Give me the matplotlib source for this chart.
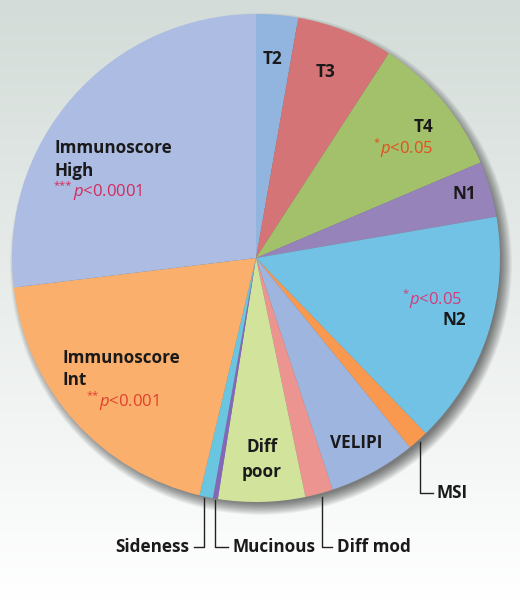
import numpy as np
import matplotlib as mpl
import matplotlib.pyplot as plt
from matplotlib.patches import Circle

mpl.rcParams['font.family'] = ['Open Sans', 'DejaVu Sans']
mpl.rcParams['mathtext.fontset'] = 'custom'
mpl.rcParams['mathtext.rm'] = 'Open Sans'
mpl.rcParams['mathtext.it'] = 'Open Sans:italic'

# slices, clockwise from 12 o'clock
labels = ['T2', 'T3', 'T4', 'N1', 'N2', 'MSI', 'VELIPI', 'Diff mod', 'Diff poor',
          'Mucinous', 'Sideness', 'Immunoscore Int', 'Immunoscore High']
shares = [10, 23, 34, 13.3, 55.7, 5, 20.8, 6.6, 20.7, 1.2, 3.2, 69.7, 97]
colors = ['#92b5df', '#d47476', '#a3c06b', '#9583b9', '#72c2e5', '#f9994f', '#9db5df',
          '#eb9490', '#d2e39c', '#8467b8', '#69c5e0', '#fbaf6d', '#acbce3']

W, H = 520, 602
cx, cy, R = 256, H - 258, 244

fig = plt.figure(figsize=(5.2, 6.02), dpi=100)
ax = fig.add_axes([0, 0, 1, 1])

# background gradient
g = np.linspace(0, 1, 256)[:, None, None]
top = np.array(mpl.colors.to_rgb('#d3dcd8'))
img = top * (1 - g) + np.ones(3) * g
ax.imshow(img, aspect='auto', extent=[0, W, 0, H], zorder=0)

# soft drop shadow
for k in range(16):
    ax.add_patch(Circle((cx + 5, cy - 6), R + 7 - k * 0.8, color='black',
                        alpha=0.04, lw=0, zorder=0.5))

ax.pie(shares, colors=colors, startangle=90, counterclock=False,
       center=(cx, cy), radius=R, wedgeprops=dict(linewidth=0))

ax.set_xlim(0, W)
ax.set_ylim(0, H)
ax.set_aspect('auto')
ax.axis('off')

dark = '#1a1a1a'
fs = 12.3
def lab(x, y, s, ha='center'):
    ax.text(x, H - y, s, ha=ha, va='center', fontsize=fs, color=dark,
            fontweight='bold')

def pval(x, y, stars, val, col):
    # x is the left edge of the italic p
    t = ax.text(x, H - y, r'$\mathit{p}$<%s' % val, ha='left', va='center',
                fontsize=12, color=col)
    ax.annotate(stars, xy=(0, 1), xycoords=t, xytext=(-0.5, 1.5),
                textcoords='offset points', ha='right', va='top',
                fontsize=8, color=col)

lab(272, 59, 'T2')
lab(326, 72, 'T3')
lab(423, 127, 'T4')
pval(380, 149, '*', '0.05', '#e0501e')
lab(464, 194, 'N1')
lab(54, 148, 'Immunoscore', ha='left')
lab(54, 171, 'High', ha='left')
pval(73, 192, '***', '0.0001', '#d42a5a')
pval(409, 300, '*', '0.05', '#d63a7a')
lab(454, 320, 'N2')
lab(63, 358, 'Immunoscore', ha='left')
lab(63, 380, 'Int', ha='left')
pval(99, 402, '**', '0.001', '#e0402a')
lab(262, 447, 'Diff')
lab(262, 472, 'poor')
lab(356, 443, 'VELIPI')

# leader lines for small slices
def leader(x0, y0, y1, x1):
    ax.plot([x0, x0, x1], [H - y0, H - y1, H - y1], color='#222222', lw=1, zorder=3)

leader(420, 442, 493, 433)
lab(437, 493, 'MSI', ha='left')
leader(322, 497, 547, 332)
lab(337, 547, 'Diff mod', ha='left')
leader(215, 500, 547, 228)
lab(233, 547, 'Mucinous', ha='left')
leader(204, 498, 547, 194)
lab(189, 547, 'Sideness', ha='right')

fig.savefig('out.png', dpi=100)
